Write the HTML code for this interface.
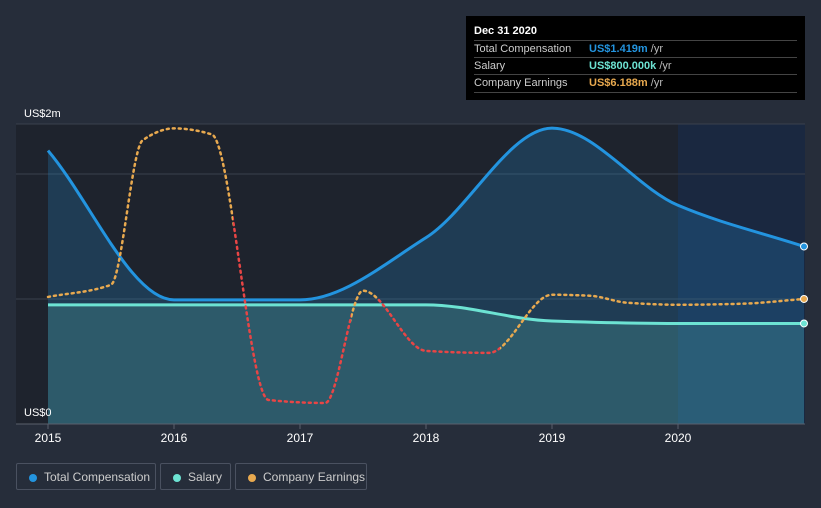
<!DOCTYPE html>
<html><head><meta charset="utf-8"><style>
body{margin:0;background:#262d3a;font-family:"Liberation Sans",sans-serif;}
#wrap{position:relative;width:821px;height:508px;overflow:hidden;}
.tt{position:absolute;left:466px;top:16px;width:339px;height:84px;background:#000;color:#ccc;font-size:11px;}
.tt .h{position:absolute;left:8px;top:9px;color:#fff;font-weight:bold;font-size:11px;}
.tt .r{position:absolute;left:8px;width:323px;height:17px;border-top:1px solid #444;line-height:16px;}
.tt .r span{position:absolute;left:115px;font-weight:bold;}
.tt .r i{font-style:normal;color:#bbb;font-weight:normal;}
.leg{position:absolute;top:463px;height:27px;border:1px solid #4a5160;border-radius:2px;color:#ccc;font-size:12px;line-height:27px;box-sizing:border-box;}
.leg b{position:absolute;left:12px;top:10px;width:8px;height:8px;border-radius:50%;}
.leg span{position:absolute;left:27px;}
</style></head><body><div id="wrap">
<svg id="svg" width="821" height="508" style="position:absolute;left:0;top:0"></svg>
<div class="tt">
<div class="h">Dec 31 2020</div>
<div class="r" style="top:24px">Total Compensation<span style="color:#2394df">US$1.419m <i>/yr</i></span></div>
<div class="r" style="top:41px">Salary<span style="color:#6de3d3">US$800.000k <i>/yr</i></span></div>
<div class="r" style="top:58px;border-bottom:1px solid #444">Company Earnings<span style="color:#e8a94f">US$6.188m <i>/yr</i></span></div>
</div>
<div class="leg" style="left:16px;width:140px"><b style="background:#2394df"></b><span>Total Compensation</span></div>
<div class="leg" style="left:160px;width:71px"><b style="background:#6de3d3"></b><span>Salary</span></div>
<div class="leg" style="left:235px;width:132px"><b style="background:#e8a94f"></b><span>Company Earnings</span></div>
</div>
<script>
const years=[2015,2016,2017,2018,2019,2020,2021];
const totalComp=[2.19,0.99,0.99,1.49,2.37,1.75,1.419];
const salaryT=[2015,2016,2017,2018,2019,2020,2021];
const salary=[0.95,0.95,0.95,0.95,0.82,0.80,0.80];
const earnT=[2015,2015.5,2015.75,2016,2016.3,2016.75,2017.2,2017.5,2018,2018.5,2019,2019.3,2019.6,2020,2020.5,2021];
const earnings=[6.29,6.9,14.1,14.7,14.4,1.15,1.0,6.6,3.6,3.5,6.4,6.35,6.0,5.9,5.95,6.19];
const yTicks=["US$0","US$2m"];
const xTicks=[2015,2016,2017,2018,2019,2020];
const X=t=>48+(t-2015)*126, Y=v=>423-v*124.4, YE=v=>423-v*20.04;
const NS="http://www.w3.org/2000/svg",svg=document.getElementById('svg');
function mk(tag,a,name){const e=document.createElementNS(NS,tag);for(const k in a)e.setAttribute(k,a[k]);


svg.appendChild(e);return e;}
function path(p){const n=p.length,d=[],m=[];
for(let i=0;i<n-1;i++)d.push((p[i+1][1]-p[i][1])/(p[i+1][0]-p[i][0]));
m[0]=d[0];m[n-1]=d[n-2];
for(let i=1;i<n-1;i++)m[i]=(d[i-1]*d[i]<=0)?0:(2/(1/d[i-1]+1/d[i]));
let s=`M${p[0][0]},${p[0][1]}`;
for(let i=0;i<n-1;i++){const h=(p[i+1][0]-p[i][0])/3;
s+=`C${p[i][0]+h},${p[i][1]+m[i]*h} ${p[i+1][0]-h},${p[i+1][1]-m[i+1]*h} ${p[i+1][0]},${p[i+1][1]}`;}return s;}
mk('rect',{x:16,y:124,width:662,height:300,fill:'#1e232d'},'plot-background');
mk('rect',{x:678,y:124,width:127,height:300,fill:'#1a2840'},'forecast-region');
[124,174,299].forEach(y=>mk('line',{x1:16,x2:805,y1:y,y2:y,stroke:'#3a414d','stroke-width':1},'gridline'));
const tp=years.map((t,i)=>[X(t),Y(totalComp[i])]),sp=salaryT.map((t,i)=>[X(t),Y(salary[i])]);
const td=path(tp),sd=path(sp);
mk('path',{d:td+`L${X(2021)},424L${X(2015)},424Z`,fill:'rgba(35,148,223,0.22)'},'total-compensation-area');
mk('path',{d:sd+`L${X(2021)},424L${X(2015)},424Z`,fill:'rgba(109,227,211,0.18)'},'salary-area');
mk('path',{d:td,fill:'none',stroke:'#2394df','stroke-width':3},'total-compensation-line');
mk('path',{d:sd,fill:'none',stroke:'#6de3d3','stroke-width':3},'salary-line');
const defs=mk('defs',{},'defs');
defs.innerHTML='<clipPath id="cl"><rect x="233" y="0" width="118" height="508"/><rect x="378" y="0" width="122" height="508"/></clipPath><clipPath id="cu"><rect x="0" y="0" width="233" height="508"/><rect x="351" y="0" width="27" height="508"/><rect x="500" y="0" width="321" height="508"/></clipPath>';
const ed=path(earnT.map((t,i)=>[X(t),YE(earnings[i])]));
mk('path',{d:ed,fill:'none',stroke:'#e8a94f','stroke-width':2.5,'stroke-dasharray':'2 4','stroke-linecap':'round','clip-path':'url(#cu)'},'company-earnings-line');
mk('path',{d:ed,fill:'none',stroke:'#e84545','stroke-width':2.5,'stroke-dasharray':'2 4','stroke-linecap':'round','clip-path':'url(#cl)'},'company-earnings-negative');
mk('line',{x1:16,x2:805,y1:424,y2:424,stroke:'#5a606c'},'x-axis');
xTicks.forEach(t=>{mk('line',{x1:X(t),x2:X(t),y1:424,y2:429,stroke:'#5a606c'},'x-tick');
const e=mk('text',{x:X(t),y:442,fill:'#fff','font-size':12,'text-anchor':'middle','font-family':'Liberation Sans'},'x-tick-label');e.textContent=t;});
[[yTicks[0],416],[yTicks[1],117]].forEach(([s,y])=>{const e=mk('text',{x:24,y:y,fill:'#fff','font-size':11,'font-family':'Liberation Sans'},'y-tick-label');e.textContent=s;});
mk('circle',{cx:X(2021),cy:Y(totalComp[6]),r:3.5,fill:'#2394df',stroke:'#fff','stroke-width':1},'total-endpoint');
mk('circle',{cx:X(2021),cy:Y(salary[6]),r:3.5,fill:'#6de3d3',stroke:'#fff','stroke-width':1},'salary-endpoint');
mk('circle',{cx:X(2021),cy:YE(earnings[15]),r:3.5,fill:'#e8a94f',stroke:'#fff','stroke-width':1},'earnings-endpoint');
</script></body></html>
